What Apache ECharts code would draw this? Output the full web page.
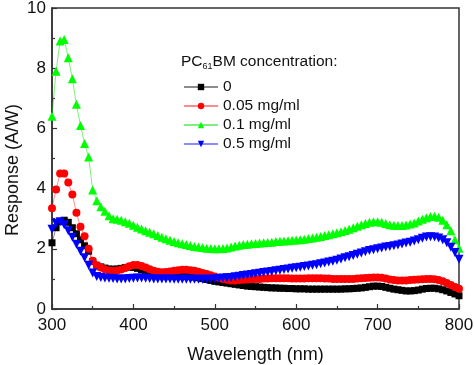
<!DOCTYPE html>
<html>
<head>
<meta charset="utf-8">
<script src="https://cdn.jsdelivr.net/npm/echarts@6/dist/echarts.min.js"></script>
<style>
html,body{margin:0;padding:0;background:#fff;}
#chart{width:474px;height:365px;}
</style>
</head>
<body>
<div id="chart"></div>
<script>
// Wavelength (nm)
const wavelength = [300,305,310,315,320,325,330,335,340,345,350,355,360,365,370,375,380,385,390,395,400,405,410,415,420,425,430,435,440,445,450,455,460,465,470,475,480,485,490,495,500,505,510,515,520,525,530,535,540,545,550,555,560,565,570,575,580,585,590,595,600,605,610,615,620,625,630,635,640,645,650,655,660,665,670,675,680,685,690,695,700,705,710,715,720,725,730,735,740,745,750,755,760,765,770,775,780,785,790,795,800];

const seriesNames = ['0', '0.05 mg/ml', '0.1 mg/ml', '0.5 mg/ml'];

// 0 mg/ml
const resp0 = [2.2,2.7,2.9,2.95,2.88,2.7,2.5,2.3,2.1,1.92,1.58,1.45,1.4,1.36,1.33,1.32,1.33,1.35,1.38,1.39,1.38,1.35,1.31,1.27,1.23,1.2,1.17,1.15,1.13,1.12,1.11,1.1,1.1,1.09,1.08,1.06,1.04,1.01,0.98,0.95,0.92,0.9,0.88,0.86,0.84,0.82,0.8,0.78,0.76,0.75,0.74,0.73,0.72,0.71,0.7,0.7,0.69,0.69,0.68,0.68,0.67,0.67,0.67,0.66,0.66,0.66,0.66,0.66,0.66,0.66,0.66,0.66,0.67,0.67,0.68,0.69,0.7,0.72,0.74,0.76,0.76,0.75,0.72,0.69,0.66,0.64,0.62,0.6,0.6,0.61,0.63,0.66,0.68,0.69,0.69,0.67,0.64,0.6,0.55,0.5,0.44];

// 0.05 mg/ml
const resp005 = [3.35,3.97,4.5,4.5,4.2,3.8,3.2,2.73,2.42,2.0,1.6,1.45,1.38,1.32,1.28,1.27,1.28,1.31,1.36,1.42,1.46,1.46,1.43,1.38,1.32,1.27,1.24,1.22,1.23,1.25,1.27,1.29,1.3,1.3,1.29,1.27,1.24,1.2,1.16,1.12,1.08,1.04,1.0,0.97,0.95,0.95,0.96,0.97,0.98,0.99,1.0,1.0,1.01,1.01,1.02,1.02,1.02,1.02,1.02,1.01,1.01,1.01,1.01,1.02,1.02,1.02,1.02,1.01,1.01,1.0,1.0,1.0,1.0,1.0,1.0,1.01,1.02,1.03,1.04,1.05,1.05,1.04,1.01,0.98,0.96,0.95,0.95,0.95,0.96,0.97,0.98,0.99,1.0,1.0,0.99,0.96,0.92,0.86,0.8,0.73,0.67];

// 0.1 mg/ml
const resp01 = [6.4,7.9,8.9,8.95,8.35,7.65,6.8,6.1,5.5,5.05,3.95,3.6,3.4,3.25,3.1,3.0,2.98,2.95,2.9,2.85,2.78,2.72,2.66,2.6,2.55,2.5,2.44,2.38,2.33,2.28,2.24,2.2,2.17,2.14,2.11,2.08,2.06,2.04,2.02,2.01,2.0,2.0,2.01,2.03,2.06,2.09,2.12,2.14,2.15,2.17,2.18,2.19,2.2,2.21,2.22,2.24,2.25,2.26,2.27,2.28,2.29,2.3,2.32,2.34,2.36,2.38,2.41,2.44,2.47,2.5,2.53,2.57,2.61,2.65,2.7,2.75,2.8,2.84,2.88,2.9,2.9,2.88,2.84,2.8,2.78,2.77,2.77,2.79,2.82,2.86,2.92,2.98,3.03,3.07,3.08,3.05,2.95,2.8,2.6,2.3,2.02];

// 0.5 mg/ml
const resp05 = [2.65,2.85,2.9,2.8,2.6,2.38,2.15,1.92,1.7,1.45,1.2,1.08,1.05,1.03,1.02,1.01,1.0,1.0,1.0,1.01,1.02,1.03,1.03,1.02,1.01,1.0,1.0,1.0,1.0,1.0,0.99,0.99,0.99,0.99,0.99,0.99,0.99,0.99,0.99,1.0,1.0,1.01,1.03,1.04,1.05,1.07,1.09,1.11,1.13,1.15,1.17,1.19,1.21,1.23,1.25,1.27,1.29,1.31,1.33,1.35,1.37,1.39,1.41,1.43,1.45,1.47,1.5,1.53,1.56,1.59,1.62,1.66,1.7,1.74,1.78,1.82,1.86,1.9,1.94,1.97,2.0,2.03,2.06,2.08,2.1,2.13,2.16,2.19,2.22,2.26,2.3,2.35,2.39,2.4,2.39,2.36,2.3,2.2,2.05,1.88,1.65];

const allResp = [resp0, resp005, resp01, resp05];
const colors = ['#000000', '#ff0000', '#00ff00', '#0000ff'];
const lineColors = ['rgba(0,0,0,0.45)', 'rgba(255,0,0,0.45)', 'rgba(0,220,0,0.5)', 'rgba(0,0,255,0.45)'];
const symbols = ['rect', 'circle', 'triangle', 'path://M0,0 L10,0 L5,9 Z'];
const symbolSizes = [7, 8, 9, 9];

const chart = echarts.init(document.getElementById('chart'), null, {renderer: 'canvas'});
const FONT = 'Liberation Sans, Arial, sans-serif';

const series = seriesNames.map((name, i) => ({
  name: name,
  type: 'line',
  data: wavelength.map((w, j) => [w, allResp[i][j]]),
  symbol: symbols[i],
  symbolSize: symbolSizes[i],
  showAllSymbol: true,
  itemStyle: {color: colors[i]},
  lineStyle: {color: lineColors[i], width: 1},
  emphasis: {disabled: true},
  animation: false,
  z: 2 + i
}));

chart.setOption({
  animation: false,
  title: {
    text: '{a|PC}{s|61}{a|BM concentration:}',
    left: 176,
    top: 47,
    textStyle: {
      fontWeight: 'normal',
      rich: {
        a: {fontFamily: FONT, fontSize: 15.5, fontWeight: 'normal', color: '#111'},
        s: {fontFamily: FONT, fontSize: 9, fontWeight: 'normal', color: '#111', padding: [10, 0, 0, 0]}
      }
    }
  },
  graphic: [{
    type: 'text',
    x: 13,
    y: 170,
    rotation: Math.PI / 2,
    style: {
      text: 'Response (A/W)',
      fontFamily: FONT,
      fontSize: 18,
      fill: '#111',
      align: 'center',
      verticalAlign: 'middle'
    }
  }],
  legend: {
    orient: 'vertical',
    left: 178,
    top: 74,
    itemWidth: 34,
    itemHeight: 8,
    itemGap: 3,
    textStyle: {fontFamily: FONT, fontSize: 15.5, color: '#111'},
    data: seriesNames
  },
  grid: {
    left: 52, right: 15, top: 8, bottom: 56,
    outerBoundsMode: 'none',
    containLabel: false,
    show: true, borderColor: '#333', borderWidth: 1.5, backgroundColor: 'transparent'
  },
  xAxis: {
    type: 'value',
    min: 300, max: 800, interval: 100,
    name: 'Wavelength (nm)',
    nameLocation: 'middle',
    nameGap: 37,
    nameTextStyle: {fontFamily: FONT, fontSize: 18, color: '#111'},
    axisLine: {show: true, lineStyle: {color: '#333', width: 1.5}},
    axisTick: {show: true, inside: true, length: 5, lineStyle: {color: '#333', width: 1.2}},
    minorTick: {show: true, splitNumber: 2, length: 3, lineStyle: {color: '#333', width: 1.2}},
    axisLabel: {fontFamily: FONT, fontSize: 17, color: '#111', margin: 8},
    splitLine: {show: false}
  },
  yAxis: {
    type: 'value',
    min: 0, max: 10, interval: 2,
    axisLine: {show: true, lineStyle: {color: '#333', width: 1.5}},
    axisTick: {show: true, inside: true, length: 5, lineStyle: {color: '#333', width: 1.2}},
    minorTick: {show: true, splitNumber: 2, length: 3, lineStyle: {color: '#333', width: 1.2}},
    axisLabel: {fontFamily: FONT, fontSize: 17, color: '#111', margin: 6},
    splitLine: {show: false}
  },
  series: series
});
</script>
</body>
</html>
